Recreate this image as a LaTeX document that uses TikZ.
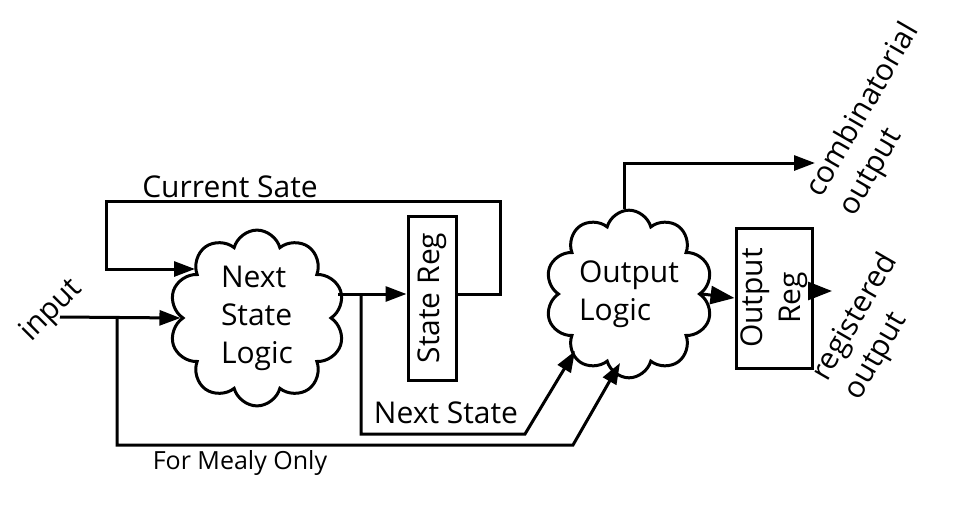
\documentclass[tikz,border=0pt]{standalone}
\usepackage{fontspec}
\setmainfont{Open Sans}
\usetikzlibrary{shapes.symbols,arrows.meta}
\begin{document}
\begin{tikzpicture}[x=0.5pt,y=-0.5pt,>={Stealth[length=10.5pt,width=7.5pt,inset=0pt]},line width=1.5pt]
\tikzset{txt style/.style={font=\fontsize{15pt}{19pt}\selectfont,inner sep=0pt},
  logic cloud/.style={cloud,draw,cloud puffs=10,minimum width=83pt,minimum height=72pt,align=left,txt style},
  reg box/.style={draw,inner sep=0pt,txt style},
  big tip/.style={-{Stealth[length=12pt,width=9pt,inset=0pt]}}}
\useasboundingbox (0,0) rectangle (971,515);
\node[logic cloud] (nsl) at (257,318) {Next\\State\\Logic};
\node[logic cloud] (ol) at (629,294) {Output\\Logic};
\node[reg box,minimum width=24pt,minimum height=82pt] (sreg) at (432,298) {\rotatebox{90}{State Reg}};
\node[reg box,minimum width=35pt,minimum height=70pt] (oreg) at (774,298) {\rotatebox{90}{\begin{tabular}{@{}c@{}}Output\\Reg\end{tabular}}};
\node[txt style] (cur) at (230,187) {Current Sate};
\node[txt style,rotate=45] (inp) at (52,311) {input};
\node[txt style] (nstxt) at (446,413) {Next State};
\node[txt style,font=\fontsize{12.5pt}{15pt}\selectfont] (mealy) at (240,463) {For Mealy Only};
\node[txt style,rotate=60,align=left] (comb) at (880,120) {combinatorial\\output};
\node[txt style,rotate=60,align=left] (regout) at (872,327) {registered\\output};
\coordinate (csin) at (195,269);
\coordinate (in0) at (60,317);
\coordinate (inbr) at (117,317);
\coordinate (nsout) at (338,294);
\coordinate (nsbr) at (361,294);
\coordinate (nsin) at (575,351);
\coordinate (mealyin) at (620,363);
\coordinate (combend) at (815,163);
\coordinate (regend) at (832,291);
\draw[->] (sreg.east |- nsout) -| (500,201) -| (106,269) -- (csin);
\draw[->] (in0) -- (nsl.west);
\draw[->] (inbr) |- (573,445) -- (mealyin);
\draw[->] (nsout) -- (nsout -| sreg.west);
\draw[->] (nsbr) |- (525,434) -- (nsin);
\draw[->] ([xshift=-2.5pt]ol.north) |- (combend);
\draw[big tip] (ol.east) -- (oreg.west);
\draw[big tip] (oreg.east |- regend) -- (regend);
\end{tikzpicture}
\end{document}
